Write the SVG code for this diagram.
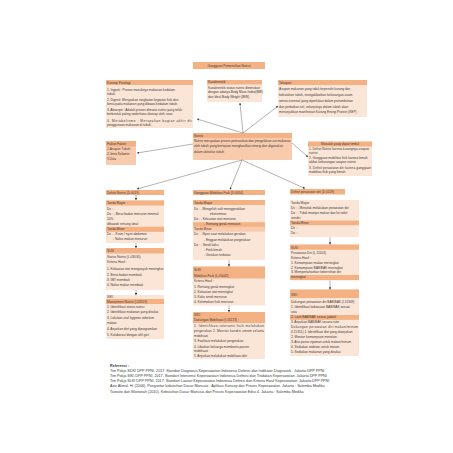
<svg xmlns="http://www.w3.org/2000/svg" width="453" height="453" viewBox="0 0 453 453">
<style>
text{font-family:"Liberation Sans",Arial,sans-serif;font-size:3.2px;fill:#3a3a3a}
.band{fill:#F4B183}
.body{fill:#FBE5D6}
.mid{fill:#F8CBAD}
.ref{font-size:3.7px}
.b{font-weight:bold}
.c{stroke:#404040;stroke-width:0.4;fill:none;marker-end:url(#ah)}
</style>
<defs>
<marker id="ah" viewBox="0 0 6 6" refX="5.5" refY="3" markerWidth="2.4" markerHeight="2.4" markerUnits="userSpaceOnUse" orient="auto"><path d="M0,0L6,3L0,6z" fill="#404040"/></marker>
</defs>
<rect width="453" height="453" fill="#ffffff"/>

<g id="title">
<rect class="band" x="193" y="62" width="72" height="7"/>
<text x="229" y="66.6" text-anchor="middle" font-size="3.4">Gangguan Pemenuhan Nutrisi</text>
</g>

<g id="konsep">
<rect class="body" x="106" y="80" width="87" height="48"/>
<rect class="band" x="106" y="80" width="87" height="5"/>
<text x="107" y="83.5">Konsep Fisiologi</text>
<text x="107" y="91.1">1. Ingesti : Proses masuknya makanan kedalam</text>
<text x="107" y="95.4">tubuh</text>
<text x="107" y="101.1">2. Digesti: Merupakan rangkaian kegiatan fisik dan</text>
<text x="107" y="105.4">kimia pada makanan yang dibawa kedalam tubuh.</text>
<text x="107" y="111.1">3. Absorpsi : Adalah proses dimana nutrisi yang telah</text>
<text x="107" y="115.4">berbentuk paling sederhana diserap oleh usus.</text>
<text x="107" y="122.1" textLength="85" lengthAdjust="spacing">4. Metabolisme : Merupakan bagian akhir dri</text>
<text x="107" y="126.1">penggunaan makanan di tubuh</text>
</g>

<g id="karakteristik">
<rect class="body" x="207" y="80" width="55" height="22"/>
<rect class="band" x="207" y="80" width="55" height="4.5"/>
<text x="208" y="83.4">Karakteristik</text>
<text x="208" y="88.8">Karakteristik status nutrisi ditentukan</text>
<text x="208" y="93.4">dengan adanya Body Mass Index(BMI)</text>
<text x="208" y="98.4">dan Ideal Body Weight (IBW).</text>
</g>

<g id="tahapan">
<rect class="body" x="278" y="80" width="89" height="37"/>
<rect class="band" x="278" y="80" width="89" height="5"/>
<text x="279" y="83.5">Tahapan</text>
<text x="279" y="90.4">Asupan makanan yang tidak terpenuhi kurang dari</text>
<text x="279" y="96.1">kebutuhan tubuh, mengakibatkan kekurangan asam</text>
<text x="279" y="102.1">amino esensial yang diperlukan dalam pertumbuhan</text>
<text x="279" y="107.8">dan perbaikan sel, selanjutnya dalam tubuh akan</text>
<text x="279" y="113.4">menunjukkan manifestasi Kurang Energi Protein (KEP)</text>
</g>

<g id="faktor">
<rect class="mid" x="106" y="141" width="30" height="24"/>
<rect class="band" x="106" y="141" width="30" height="5.5"/>
<text x="107" y="145.1">Faktor-Faktor</text>
<text x="107" y="150.1">1.Asupan Tubuh</text>
<text x="107" y="155.1">2.Jenis Kelamin</text>
<text x="107" y="160.1">3.Usia</text>
</g>

<g id="nutrisi">
<rect class="mid" x="193" y="133" width="99" height="27"/>
<rect class="band" x="193" y="133" width="99" height="5"/>
<text x="194" y="136.5">Nutrisi</text>
<text x="194" y="141.6">Nutrisi merupakan proses pemasukan dan pengolahan zat makanan</text>
<text x="194" y="147.4">oleh tubuh yang bertujuan menghasilkan energi dan digunakan</text>
<text x="194" y="153.1">dalam aktivitas tubuh</text>
</g>

<g id="masalah">
<rect class="body" x="308" y="141.5" width="64" height="34.5"/>
<rect class="band" x="308" y="141.5" width="64" height="5"/>
<text x="340" y="145" text-anchor="middle">Masalah yang dapat timbul</text>
<text x="309" y="150.4">1. Defisit Nutrisi karena kurangnya asupan</text>
<text x="309" y="154.4">nutrisi</text>
<text x="309" y="159.4">2. Gangguan mobilitas fisik karena lemah</text>
<text x="309" y="163.4">akibat kekurangan asupan nutrisi</text>
<text x="309" y="169.4" textLength="62" lengthAdjust="spacing">3. Defisit perawatan diri karena gangguan</text>
<text x="309" y="173.4">mobilitas fisik yang lemah</text>
</g>

<g id="defisit-nutrisi">
<rect class="band" x="106" y="190" width="58" height="5"/>
<text x="107" y="193.6">Defisit Nutrisi (D.0019)</text>
</g>
<g id="dn-tanda">
<rect class="body" x="106" y="200" width="58" height="43"/>
<rect class="band" x="106" y="200.5" width="58" height="5"/>
<text x="107" y="204.2">Tanda Mayor</text>
<text x="107" y="210.1">Ds : -</text>
<text x="107" y="215.1">Do : - Berat badan menurun minimal</text>
<text x="107" y="220.1">10%</text>
<text x="107" y="225.4">dibawah rentang ideal</text>
<rect class="band" x="106" y="226.8" width="58" height="5"/>
<text x="107" y="230.4">Tanda Minor</text>
<text x="107" y="235.4">Ds : - Kram / nyeri abdomen</text>
<text x="113" y="240.4">- Nafsu makan menurun</text>
</g>
<g id="dn-slki">
<rect class="body" x="106" y="248" width="58" height="42"/>
<rect class="band" x="106" y="248" width="58" height="5.5"/>
<text x="107" y="252.1">SLKI</text>
<text x="107" y="258.4">Status Nutrisi (L.03030)</text>
<text x="107" y="263.4">Kriteria Hasil :</text>
<text x="107" y="269.8">1. Kekuatan otot mengunyah meningkat</text>
<text x="107" y="275.8">2. Berat badan membaik</text>
<text x="107" y="280.8">3. IMT membaik</text>
<text x="107" y="285.8">4. Nafsu makan membaik</text>
</g>
<g id="dn-siki">
<rect class="body" x="106" y="295" width="58" height="44"/>
<text x="107" y="297.6">SIKI</text>
<rect class="band" x="106" y="299" width="58" height="5"/>
<text x="107" y="302.5">Manajemen Nutrisi (I.03119)</text>
<text x="107" y="308.4">1. Identifikasi status nutrisi</text>
<text x="107" y="313.4">2. Identifikasi makanan yang disukai</text>
<text x="107" y="319.1">3. Lakukan oral hygiene sebelum</text>
<text x="107" y="324.1">makan</text>
<text x="107" y="330.1">4. Anjurkan diet yang diprogramkan</text>
<text x="107" y="335.8">5. Kolaborasi dengan ahli gizi</text>
</g>

<g id="gangguan-mobilitas">
<rect class="band" x="193" y="190" width="72" height="5"/>
<text x="194" y="193.6">Gangguan Mobilitas Fisik (D.0054)</text>
</g>
<g id="gm-tanda">
<rect class="body" x="193" y="200" width="72" height="60"/>
<rect class="band" x="193" y="200" width="72" height="5"/>
<text x="194" y="203.8">Tanda Mayor</text>
<text x="194" y="210.4">Ds : - Mengeluh sulit menggerakkan</text>
<text x="210" y="215.1">ekstremitas</text>
<text x="194" y="220.4">Do : - Kekuatan otot menurun</text>
<rect class="band" x="193" y="222.3" width="72" height="4.6"/>
<rect class="mid" x="193" y="226.9" width="72" height="4.8"/>
<text x="204" y="225.4">- Rentang gerak menurun</text>
<text x="194" y="230.4">Tanda Minor</text>
<text x="194" y="235.4">Ds : - Nyeri saat melakukan gerakan</text>
<text x="204" y="241.1">- Enggan melakukan pergerakan</text>
<text x="194" y="246.1">Do : - Sendi kaku</text>
<text x="204" y="251.1">- Fisik lemah</text>
<text x="204" y="256.1">- Gerakan terbatas</text>
</g>
<g id="gm-slki">
<rect class="body" x="193" y="266.5" width="72" height="39"/>
<rect class="band" x="193" y="266.5" width="72" height="12"/>
<text x="194" y="271.4">SLKI</text>
<text x="194" y="277.2">Mobilitas Fisik (L.05042)</text>
<text x="194" y="282.4">Kriteria Hasil :</text>
<text x="194" y="288.1">1. Rentang gerak meningkat</text>
<text x="194" y="293.1">2. Kekuatan otot meningkat</text>
<text x="194" y="298.1">3. Kaku sendi menurun</text>
<text x="194" y="303.1">4. Kelemahan fisik menurun</text>
</g>
<g id="gm-siki">
<rect class="body" x="193" y="312" width="72" height="47"/>
<rect class="band" x="193" y="312" width="72" height="11"/>
<text x="194" y="316.4">SIKI</text>
<text x="194" y="321.4">Dukungan Mobilisasi (I.05173)</text>
<text x="194" y="327" textLength="70" lengthAdjust="spacing">1. Identifikasi toleransi fisik melakukan</text>
<text x="194" y="331.8" textLength="70" lengthAdjust="spacing">pergerakan 2. Monitor kondisi umum selama</text>
<text x="194" y="336.6">mobilisasi</text>
<text x="194" y="342.1">3. Fasilitasi melakukan pergerakan</text>
<text x="194" y="347.6">4. Libatkan keluarga membantu pasien</text>
<text x="194" y="352.4">mobilisasi</text>
<text x="194" y="357.2">5. Anjurkan melakukan mobilisasi dini</text>
</g>

<g id="defisit-perawatan">
<rect class="band" x="290" y="189" width="55" height="5.5"/>
<text x="291" y="193">Defisit perawatan diri (D.0109)</text>
</g>
<g id="dp-tanda">
<rect class="body" x="290" y="200" width="69" height="37"/>
<text x="291" y="203.8">Tanda Mayor</text>
<text x="291" y="209.4">Ds : - Menolak melakukan perawatan diri</text>
<text x="291" y="214.4">Do : - Tidak mampu makan dan ke toilet</text>
<text x="291" y="219.4">sendiri</text>
<rect class="band" x="290" y="220.6" width="69" height="4.6"/>
<text x="291" y="223.9">Tanda Minor</text>
<text x="291" y="228.8">Ds : -</text>
<text x="291" y="233.8">Do : -</text>
</g>
<g id="dp-slki">
<rect class="body" x="290" y="244.5" width="69" height="36"/>
<rect class="band" x="290" y="244.5" width="69" height="5.2"/>
<text x="291" y="248.6">SLKI :</text>
<text x="291" y="253.8">Perawatan Diri (L.11103)</text>
<text x="291" y="258.8">Kriteria Hasil :</text>
<text x="291" y="263.8">1. Kemampuan makan meningkat</text>
<text x="291" y="268.6">2. Kemampuan BAB/BAK meningkat</text>
<text x="291" y="273.4">3. Mempertahankan kebersihan diri</text>
<rect class="band" x="290" y="275" width="69" height="5"/>
<text x="291" y="278.4">meningkat</text>
</g>
<g id="dp-siki">
<rect class="body" x="290" y="289.5" width="69" height="66.5"/>
<rect class="band" x="290" y="289.5" width="69" height="8.5"/>
<text x="291" y="296">SIKI :</text>
<text x="291" y="303.4">Dukungan perawatan diri BAB/BAK (I.11349)</text>
<text x="291" y="308.4">1. Identifikasi kebiasaan BAB/BAK sesuai</text>
<text x="291" y="313.4">usia</text>
<rect class="band" x="290" y="315" width="69" height="4.8"/>
<text x="291" y="318.4">2. Latih BAB/BAK sesuai jadwal</text>
<text x="291" y="323.4">3. Anjurkan BAB/BAK secara rutin</text>
<text x="291" y="328.4" textLength="67" lengthAdjust="spacing">Dukungan perawatan diri makan/minum</text>
<text x="291" y="333.4">(I.11351) 1. Identifikasi diet yang dianjurkan</text>
<text x="291" y="338.4">2. Monitor kemampuan menelan</text>
<text x="291" y="343.4">3. Atur posisi nyaman untuk makan/minum</text>
<text x="291" y="348.4">4. Sediakan sedotan untuk minum</text>
<text x="291" y="353.4">5. Sediakan makanan yang disukai</text>
</g>

<g id="connectors">
<path class="c" d="M243,133 L197,119"/>
<path class="c" d="M243,133 L240,103"/>
<path class="c" d="M243,133 L278,106"/>
<path class="c" d="M193,144 L137,153"/>
<path class="c" d="M292,143 L308,157"/>
<path class="c" d="M242,160 L137,189"/>
<path class="c" d="M242,160 L230,189.5"/>
<path class="c" d="M242,160 L305,188.5"/>
<path class="c" d="M136,195 L136,200"/>
<path class="c" d="M136,243 L136,248"/>
<path class="c" d="M136,290 L136,295"/>
<path class="c" d="M229,260 L229,266.5"/>
<path class="c" d="M229,305.5 L229,312"/>
<path class="c" d="M330,237 L330,244.5"/>
<path class="c" d="M330,280.5 L330,289.5"/>
</g>

<g id="referensi">
<text class="ref b" x="110" y="366.5">Referensi :</text>
<text class="ref" x="110" y="372">Tim Pokja SDKI DPP PPNI. 2017. Standart Diagnosis Keperawatan Indonesia Definisi dan Indikator Diagnostik . Jakarta:DPP PPNI</text>
<text class="ref" x="110" y="377">Tim Pokja SIKI DPP PPNI. 2017. Standart Intervensi Keperawatan Indonesia Definisi dan Tindakan Keperawatan. Jakarta:DPP PPNI</text>
<text class="ref" x="110" y="382">Tim Pokja SLKI DPP PPNI. 2017. Standart Luaran Keperawatan Indonesia Definisi dan Kriteria Hasil Keperawatan. Jakarta:DPP PPNI</text>
<text class="ref" x="110" y="387">Aziz Alimul. H. (2006). Pengantar kebutuhan Dasar Manusia : Aplikasi Konsep dan Proses Keperawatan. Jakarta : Salemba Medika.</text>
<text class="ref" x="110" y="393">Tarwoto dan Wartonah (2010). Kebutuhan Dasar Manusia dan Proses Keperawatan Edisi 4. Jakarta : Salemba Medika</text>
</g>
</svg>
